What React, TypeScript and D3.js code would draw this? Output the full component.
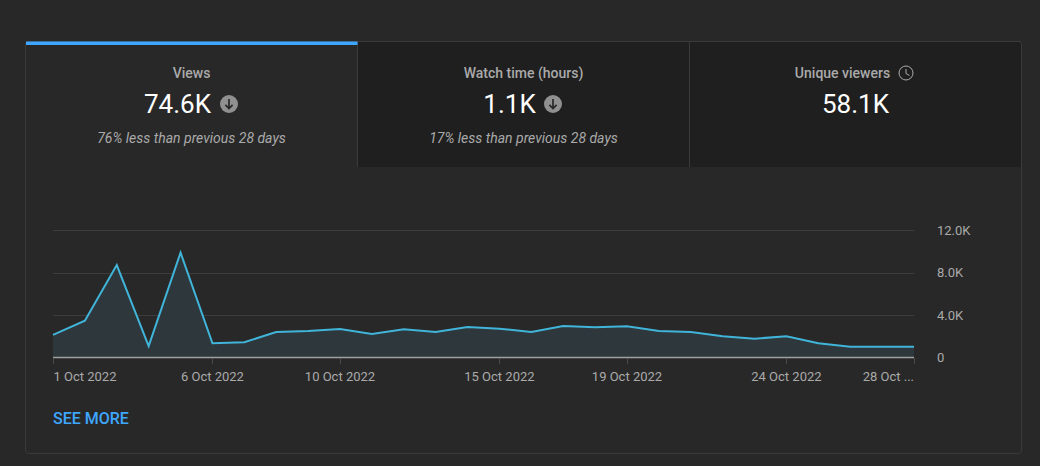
import React from "react";
import * as d3 from "d3";

const days = Array.from({ length: 28 }, (_, i) => i + 1);
const views = [2130, 3470, 8700, 1090, 9870, 1340, 1440, 2410, 2500, 2690, 2220, 2660, 2410, 2880, 2720, 2410, 2970, 2850, 2950, 2500, 2410, 2000, 1780, 2000, 1350, 1030, 1030, 1030];
const yTicks = [0, 4000, 8000, 12000];
const yLabels = ["0", "4.0K", "8.0K", "12.0K"];
const xTickDays = [1, 6, 10, 15, 19, 24, 28];
const xTickLabels = ["1 Oct 2022", "6 Oct 2022", "10 Oct 2022", "15 Oct 2022", "19 Oct 2022", "24 Oct 2022", "28 Oct ..."];
const tabTitles = ["Views", "Watch time (hours)", "Unique viewers"];
const tabValues = ["74.6K", "1.1K", "58.1K"];
const tabNotes = ["76% less than previous 28 days", "17% less than previous 28 days", ""];

const FONT = "Roboto, sans-serif";
const BG = "#282828";
const DARK = "#1f1f1f";
const BORDER = "#3a3a3a";

function DownIcon({ cx, cy }: { cx: number; cy: number }) {
  return (
    <g>
      <circle cx={cx} cy={cy} r={9} fill="#909090" />
      <path d={`M${cx} ${cy - 5}V${cy + 4.5}M${cx - 3.6} ${cy + 0.8}L${cx} ${cy + 4.5}L${cx + 3.6} ${cy + 0.8}`} fill="none" stroke="#282828" strokeWidth={1.7} />
    </g>
  );
}

export default function App() {
  const x = d3.scaleLinear().domain([1, 28]).range([53, 914]);
  const y = d3.scaleLinear().domain([0, 12000]).range([357.6, 230]);
  const line = d3.line<number>().x((_, i) => x(days[i])).y((d) => y(d));
  const area = d3.area<number>().x((_, i) => x(days[i])).y0(y(0)).y1((d) => y(d));
  const tabX = [25.5, 357.5, 689.5, 1021.5];
  return (
    <svg width={1040} height={466} style={{ position: "absolute", left: 0, top: 0, background: BG, fontFamily: FONT }}>
      <rect x={25.5} y={41.5} width={996} height={412} rx={3} fill={BG} stroke={BORDER} />
      {/* tabs */}
      <path d={`M${tabX[1]} 167V42H1018a3 3 0 0 1 3 3V167Z`} fill={DARK} />
      <line x1={tabX[1]} x2={tabX[1]} y1={42} y2={167} stroke={BORDER} />
      <line x1={tabX[2]} x2={tabX[2]} y1={42} y2={167} stroke={BORDER} />
      <line x1={tabX[1]} x2={1021} y1={41.5} y2={41.5} stroke={BORDER} />
      <rect x={26} y={41.5} width={331.5} height={3.5} fill="#3ea6ff" />
      <text x={191.5} y={78} textAnchor="middle" fontSize={14} fontWeight={500} fill="#aaaaaa">{tabTitles[0]}</text>
      <text x={523.5} y={78} textAnchor="middle" fontSize={14} fontWeight={500} fill="#aaaaaa">{tabTitles[1]}</text>
      <text x={842.5} y={78} textAnchor="middle" fontSize={14} fontWeight={500} fill="#aaaaaa">{tabTitles[2]}</text>
      <g fill="none" stroke="#aaaaaa" strokeWidth={1}>
        <circle cx={906} cy={73} r={7} />
        <path d="M906 69V73.5L909.5 75.5" />
      </g>
      <text x={177.5} y={113} textAnchor="middle" fontSize={26} fill="#ffffff">{tabValues[0]}</text>
      <DownIcon cx={229} cy={104} />
      <text x={509.5} y={113} textAnchor="middle" fontSize={26} fill="#ffffff">{tabValues[1]}</text>
      <DownIcon cx={553} cy={104} />
      <text x={855.5} y={113} textAnchor="middle" fontSize={26} fill="#ffffff">{tabValues[2]}</text>
      <text x={191.5} y={143} textAnchor="middle" fontSize={14} fontStyle="italic" fill="#aaaaaa">{tabNotes[0]}</text>
      <text x={523.5} y={143} textAnchor="middle" fontSize={14} fontStyle="italic" fill="#aaaaaa">{tabNotes[1]}</text>

      {/* grid */}
      {yTicks.slice(1).map((t) => (
        <line key={t} x1={53} x2={914} y1={Math.round(y(t)) + 0.5} y2={Math.round(y(t)) + 0.5} stroke="#3d3d3d" />
      ))}
      <path d={area(views) ?? ""} fill="#2d373c" />
      <path d={line(views) ?? ""} fill="none" stroke="#41b4d9" strokeWidth={2} />
      <line x1={53} x2={914} y1={y(0)} y2={y(0)} stroke="#a0a0a0" strokeWidth={1.5} />
      {xTickDays.map((d) => (
        <line key={d} x1={Math.round(x(d)) + 0.5} x2={Math.round(x(d)) + 0.5} y1={358} y2={364} stroke="#4a4a4a" />
      ))}
      {xTickDays.map((d, i) => (
        <text
          key={d}
          x={i === 0 ? 53.5 : i === xTickDays.length - 1 ? 914 : x(d)}
          y={381}
          fontSize={13}
          fill="#aaaaaa"
          textAnchor={i === 0 ? "start" : i === xTickDays.length - 1 ? "end" : "middle"}
        >
          {xTickLabels[i]}
        </text>
      ))}
      {yTicks.map((t, i) => (
        <text key={t} x={937} y={y(t) + 4.5} fontSize={13} fill="#aaaaaa">{yLabels[i]}</text>
      ))}
      <text x={53} y={424} fontSize={16} fontWeight={500} fill="#3ea6ff">SEE MORE</text>
    </svg>
  );
}
